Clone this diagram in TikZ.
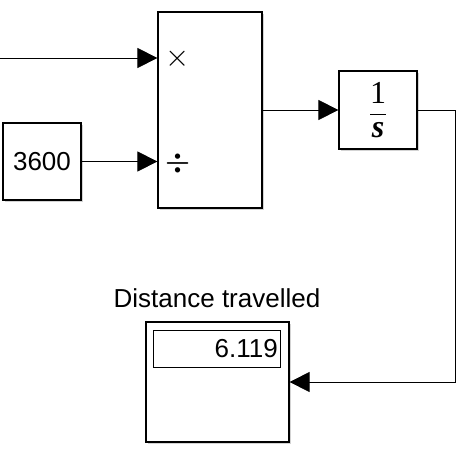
\documentclass[tikz,border=0pt]{standalone}
\usepackage{amsmath,bm}
\usepackage{fontspec}
\setmainfont{Liberation Sans}
\newfontfamily\seriffont{Liberation Serif}
\usepackage{graphicx}
\usepackage{tikz}
\usetikzlibrary{arrows.meta}
\usetikzlibrary{positioning}
\usetikzlibrary{shadows}

\begin{document}
\begin{tikzpicture}[x=1pt, y=-1pt,
    block/.style={draw, line width=1.2pt, fill=white, inner sep=0pt,
        drop shadow={shadow xshift=1.5pt, shadow yshift=-1.5pt, opacity=0.35}},
    sig/.style={line width=0.8pt, -{Triangle[length=20pt, width=20pt]}},
    lbl/.style={font=\fontsize{26}{30}\selectfont, inner sep=0pt}]
    \useasboundingbox (0,0) rectangle (476,463);

    \node[block, minimum width=104pt, minimum height=196pt] (prod) at (210,110) {};
    \node[block, minimum width=78pt, minimum height=77pt, lbl] (const) at (42,161.5) {3600};
    \node[block, minimum width=78pt, minimum height=78pt] (int) at (378,110)
        {\fontsize{32}{36}\selectfont$\displaystyle\frac{\mbox{\seriffont 1}}{\mbox{\seriffont\itshape\bfseries s}}$};
    \node[block, minimum width=143pt, minimum height=120pt] (disp) at (217.5,382) {};
    \node[draw, line width=0.6pt, minimum width=127pt, minimum height=37pt] (val) at (216.5,348.5) {};
    \node[lbl, anchor=east] (num) at (278,349) {6.119};
    \node[lbl] (title) at (217,298) {Distance travelled};

    % port signs
    \node[inner sep=0pt] (mul) at (178,59) {\fontsize{20}{24}\selectfont\scalebox{1.5}{$\times$}};
    \node[inner sep=0pt] (dv) at (178,163) {\fontsize{20}{24}\selectfont\scalebox{1.35}{$\bm{\div}$}};

    \coordinate (in) at (0,58);
    \coordinate (turn) at (455,110);
    \draw[sig] (in) -- (prod.west |- in);
    \draw[sig] (const.east) -- (const.east -| prod.west);
    \draw[sig] (prod.east) -- (int.west);
    \draw[sig] (int.east) -- (turn) |- (disp.east);
\end{tikzpicture}
\end{document}
